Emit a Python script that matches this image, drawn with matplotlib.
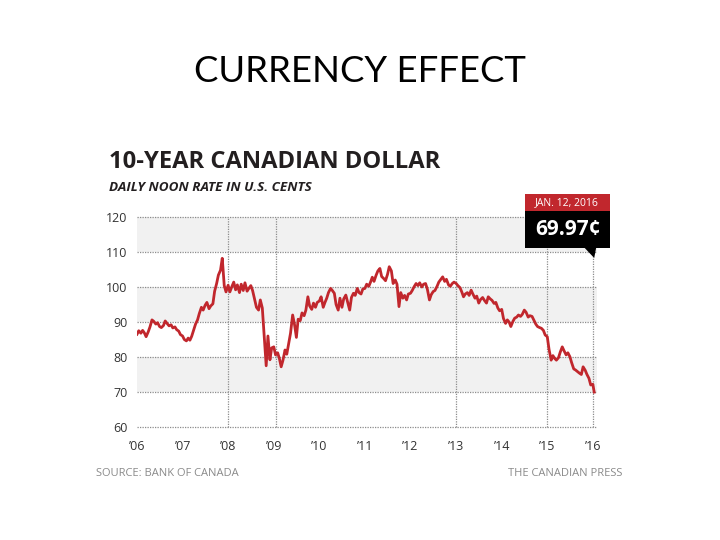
import pandas as pd
import numpy as np
import matplotlib
matplotlib.use("Agg")
import matplotlib.pyplot as plt
import matplotlib.dates as mdates
from matplotlib.patches import Rectangle, Polygon

# Daily noon rate at the 1st and 15th of each month
rate_2006 = [86.5, 87.5, 86.8, 87.6, 86.9, 85.8, 87.2, 88.6, 90.6, 90.2, 89.4, 89.8,
             88.7, 88.4, 89.0, 90.3, 89.5, 88.9, 89.2, 88.3, 88.6, 87.8, 87.4, 86.4]
rate_2007 = [86.0, 85.0, 84.6, 85.4, 84.8, 85.9, 87.8, 89.4, 90.6, 92.4, 94.2, 93.4,
             94.8, 95.6, 93.8, 94.6, 95.2, 98.8, 101.0, 103.4, 104.8, 108.2, 100.4, 98.6]
rate_2008 = [100.5, 98.6, 100.2, 101.4, 99.2, 100.6, 98.4, 100.8, 99.0, 101.2, 98.8, 99.6,
             100.4, 99.0, 96.4, 94.2, 93.4, 96.3, 94.0, 86.5, 77.5, 86.0, 79.2, 82.6]
rate_2009 = [82.9, 80.6, 81.2, 79.5, 77.2, 79.0, 82.0, 80.8, 84.0, 86.8, 92.0, 89.5,
             85.6, 90.8, 90.4, 92.6, 91.8, 93.4, 97.2, 94.6, 93.6, 95.4, 94.2, 95.6]
rate_2010 = [96.0, 97.2, 94.2, 95.6, 96.8, 98.4, 99.6, 99.0, 98.2, 95.0, 93.4, 96.8,
             94.2, 96.6, 97.7, 95.8, 93.4, 97.0, 98.2, 97.6, 99.6, 98.4, 98.0, 99.4]
rate_2011 = [99.6, 100.8, 100.2, 101.4, 102.8, 101.6, 103.4, 104.6, 105.3, 103.0, 102.4, 101.8,
             103.6, 105.8, 104.6, 101.0, 102.0, 100.8, 94.4, 98.4, 96.8, 97.6, 96.3, 98.0]
rate_2012 = [98.2, 99.0, 100.2, 101.0, 100.4, 101.2, 100.0, 100.8, 101.0, 99.4, 96.3, 97.8,
             98.7, 99.0, 100.2, 101.4, 102.2, 102.9, 101.6, 102.2, 100.6, 100.2, 101.0, 101.4]
rate_2013 = [101.0, 100.4, 99.8, 98.6, 97.2, 98.0, 98.4, 97.6, 99.1, 98.0, 96.8, 97.4,
             95.4, 96.4, 97.0, 96.2, 95.4, 97.2, 96.6, 96.2, 95.3, 95.6, 94.0, 93.2]
rate_2014 = [93.6, 91.0, 89.6, 90.6, 90.0, 88.7, 90.2, 91.1, 91.4, 92.0, 91.6, 92.2,
             93.4, 92.8, 91.4, 91.8, 91.6, 90.6, 89.4, 88.7, 88.4, 88.2, 87.6, 86.3]
rate_2015 = [85.8, 82.2, 79.1, 80.4, 79.6, 79.1, 79.8, 81.4, 82.9, 81.8, 80.6, 81.2,
             80.1, 78.4, 76.6, 76.3, 75.8, 75.4, 75.0, 77.2, 76.2, 75.0, 73.9, 72.0]
rate_2016 = [72.2, 69.97]
dates_2016 = ["2016-01-01", "2016-01-12"]

year_ticks = list(range(2006, 2017))
year_labels = ["\u201906", "\u201907", "\u201908", "\u201909", "\u201910", "\u201911",
               "\u201912", "\u201913", "\u201914", "\u201915", "\u201916"]
event_dates = ["2008-01-01", "2009-01-20", "2013-01-01", "2015-01-01", "2016-01-01"]
y_levels = [60, 70, 80, 90, 100, 110, 120]
shaded_bands = [(70, 80), (90, 100), (110, 120)]

dates = list(pd.date_range("2006-01-01", "2015-12-15", freq="SMS")) + list(pd.to_datetime(dates_2016))
rates = (rate_2006 + rate_2007 + rate_2008 + rate_2009 + rate_2010 + rate_2011
         + rate_2012 + rate_2013 + rate_2014 + rate_2015 + rate_2016)

FONT = "Open Sans"
RED = "#c1272d"
DARK = "#231f20"

fig = plt.figure(figsize=(7.2, 5.4), dpi=100)
fig.patch.set_facecolor("white")

fig.text(0.5, 0.868, "CURRENCY EFFECT", ha="center", va="center",
         fontsize=26.3, family="Lato", color="black")
fig.text(0.151, 0.700, "10-YEAR CANADIAN DOLLAR", ha="left", va="center",
         fontsize=17.1, family=FONT, weight="bold", color=DARK)
fig.text(0.152, 0.652, "DAILY NOON RATE IN U.S. CENTS", ha="left", va="center",
         fontsize=9.7, family=FONT, weight="bold", style="italic", color=DARK)
fig.text(0.134, 0.123, "SOURCE: BANK OF CANADA", ha="left", va="center",
         fontsize=8, family=FONT, color="#8a8a8a")
fig.text(0.865, 0.123, "THE CANADIAN PRESS", ha="right", va="center",
         fontsize=8, family=FONT, color="#8a8a8a")

ax = fig.add_axes([137 / 720, 1 - 427 / 540, 460 / 720, 210 / 540])
x_left = mdates.date2num(pd.Timestamp("2006-01-01"))
x_right = x_left + 10.09 * 365.25
ax.set_xlim(x_left, x_right)
ax.set_ylim(60, 120)

for lo, hi in shaded_bands:
    ax.axhspan(lo, hi, color="#f1f1f1", lw=0, zorder=0)
for lvl in y_levels:
    ax.axhline(lvl, color="#8c8c8c", lw=0.9, ls=(0, (1, 1)), zorder=1, clip_on=False)
for d in event_dates:
    ax.axvline(pd.Timestamp(d), color="#8c8c8c", lw=0.9, ls=(0, (1, 1)),
               zorder=1, clip_on=False)

ax.plot(dates, rates, color=RED, lw=2.0, zorder=3, solid_joinstyle="round")

for s in ax.spines.values():
    s.set_visible(False)
ax.set_yticks(y_levels)
ax.set_yticklabels([str(v) for v in y_levels], family=FONT, fontsize=9, color="#333333")
ax.set_xticks([pd.Timestamp(f"{y}-01-01") for y in year_ticks])
ax.set_xticklabels(year_labels, family=FONT, fontsize=9, color="#333333")
ax.tick_params(length=0, pad=7)
ax.tick_params(axis="x", pad=9)

# callout above the last value
fig.canvas.draw()
tip = ax.transData.transform((mdates.date2num(dates[-1]), 108.3))
W, H = fig.get_size_inches() * fig.dpi

def fpt(dx, dy):
    return ((tip[0] + dx) / W, (tip[1] + dy) / H)

bx0, by0 = fpt(-69, 10)
fig.patches.append(Rectangle((bx0, by0), 85 / W, 37 / H, transform=fig.transFigure,
                             facecolor="black", edgecolor="none", zorder=5))
rx0, ry0 = fpt(-69, 47)
fig.patches.append(Rectangle((rx0, ry0), 85 / W, 17 / H, transform=fig.transFigure,
                             facecolor=RED, edgecolor="none", zorder=5))
fig.patches.append(Polygon([fpt(-10, 10.5), fpt(2, 10.5), fpt(0, 0)], closed=True,
                           transform=fig.transFigure, facecolor="black", edgecolor="none", zorder=5))
tx, ty = fpt(-27, 55)
fig.text(tx, ty, "JAN. 12, 2016", ha="center", va="center", fontsize=7.5,
         family=FONT, color="white", zorder=6)
vx, vy = fpt(-26, 28)
fig.text(vx, vy, "69.97\u00a2", ha="center", va="center", fontsize=15,
         family=FONT, weight="bold", color="white", zorder=6)

fig.savefig("out.png", dpi=100)
